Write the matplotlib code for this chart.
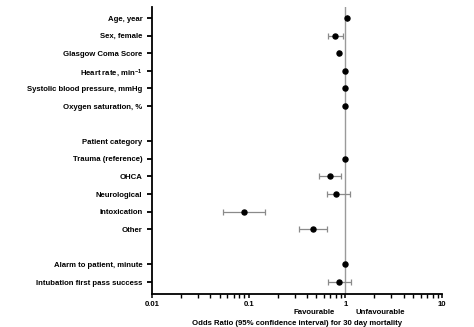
import matplotlib
matplotlib.use("Agg")
import matplotlib.pyplot as plt
from matplotlib.ticker import LogLocator, FixedLocator, NullFormatter

plt.rcParams['font.family'] = ['Liberation Sans', 'DejaVu Sans']
plt.rcParams['font.weight'] = 'bold'
plt.rcParams['mathtext.fontset'] = 'custom'
plt.rcParams['mathtext.bf'] = 'Liberation Sans:bold'
plt.rcParams['mathtext.rm'] = 'Liberation Sans:bold'
plt.rcParams['mathtext.default'] = 'bf'

labels = ["Age, year", "Sex, female", "Glasgow Coma Score", "Heart rate, min$^{-1}$",
          "Systolic blood pressure, mmHg", "Oxygen saturation, %", "",
          "Patient category", "Trauma (reference)", "OHCA", "Neurological",
          "Intoxication", "Other", "", "Alarm to patient, minute",
          "Intubation first pass success"]

# odds ratio, lower and upper 95% CI (None = no estimate on that row)
odds = [1.04, 0.78, 0.85, 1.00, 1.00, 1.00, None,
        None, 1.00, 0.70, 0.81, 0.089, 0.46, None, 1.00, 0.87]
ci_low = [1.03, 0.66, 0.83, 0.99, 0.99, 0.99, None,
          None, 1.00, 0.54, 0.65, 0.054, 0.33, None, 0.99, 0.66]
ci_high = [1.05, 0.94, 0.87, 1.01, 1.01, 1.01, None,
           None, 1.00, 0.91, 1.11, 0.147, 0.64, None, 1.01, 1.15]

fig = plt.figure(figsize=(4.74, 3.27), dpi=100)
ax = fig.add_axes([152/474, 1-294/327, 290/474, 287/327])

ax.axvline(1, color='#9a9a9a', lw=1.0, zorder=1)

for i, (o, lo, hi) in enumerate(zip(odds, ci_low, ci_high)):
    if o is None:
        continue
    ax.errorbar(o, i, xerr=[[o-lo], [hi-o]], fmt='none', ecolor='#8a8a8a',
                elinewidth=0.9, capsize=2.2, capthick=0.9, zorder=2)
    ax.plot(o, i, 'o', color='black', ms=3.6, zorder=3)

ax.set_xscale('log')
ax.set_xlim(0.01, 10)
ax.set_ylim(15.68, -0.63)

# tick only the rows that carry a label
rows = [i for i, lab in enumerate(labels) if lab]
ax.set_yticks(rows)
ax.set_yticklabels([labels[i] for i in rows], fontsize=5.6, fontweight='bold')
ax.xaxis.set_major_locator(FixedLocator([0.01, 0.1, 1, 10]))
ax.set_xticklabels(["0.01", "0.1", "1", "10"], fontsize=5.6, fontweight='bold')
ax.xaxis.set_minor_locator(LogLocator(base=10, subs=range(2, 10)))
ax.xaxis.set_minor_formatter(NullFormatter())

for s in ['top', 'right']:
    ax.spines[s].set_visible(False)
for s in ['left', 'bottom']:
    ax.spines[s].set_linewidth(1.3)

ax.tick_params(axis='y', length=3.5, width=1.3, pad=3.5)
ax.tick_params(axis='x', which='major', length=3.2, width=1.1, pad=1.8)
ax.tick_params(axis='x', which='minor', length=2.6, width=1.0)

ax.text(0.78, -0.052, "Favourable", transform=ax.get_xaxis_transform(),
        ha='right', va='top', fontsize=5.6, fontweight='bold')
ax.text(1.27, -0.052, "Unfavourable", transform=ax.get_xaxis_transform(),
        ha='left', va='top', fontsize=5.6, fontweight='bold')
ax.text(0.5, -0.092, "Odds Ratio (95% confidence interval) for 30 day mortality",
        transform=ax.transAxes, ha='center', va='top', fontsize=5.6,
        fontweight='bold')

fig.savefig("out.png", dpi=100)
